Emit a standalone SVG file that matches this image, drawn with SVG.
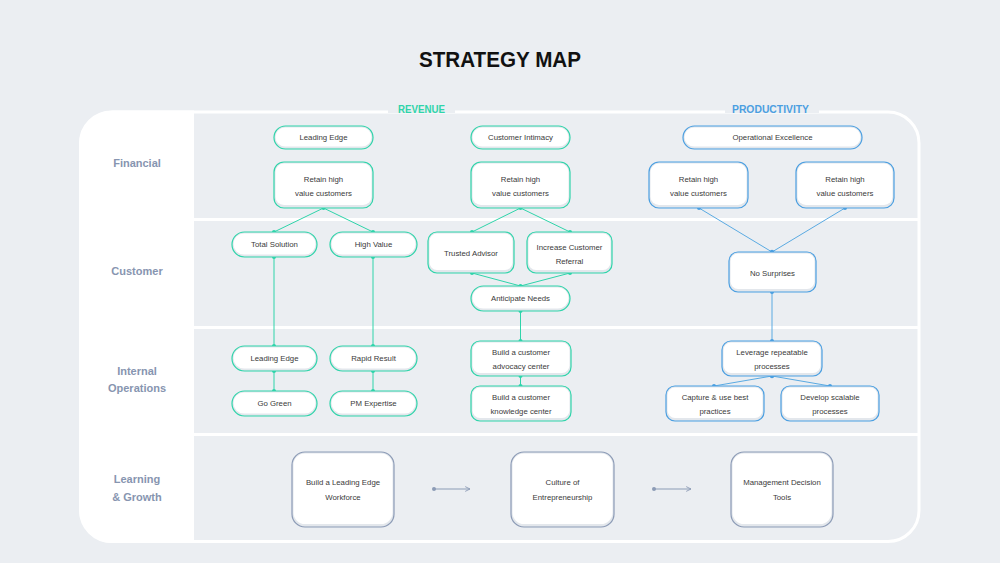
<svg xmlns="http://www.w3.org/2000/svg" width="1000" height="563" viewBox="0 0 1000 563">
<style>
  .bg{fill:#ebeef2}
  .t{font-family:"Liberation Sans",Arial,sans-serif;font-size:7.8px;fill:#3a3a3a;text-anchor:middle}
  .row{font-family:"Liberation Sans",Arial,sans-serif;font-size:11px;font-weight:bold;fill:#8795b0;text-anchor:middle}
  .hdr{font-family:"Liberation Sans",Arial,sans-serif;font-size:10.5px;font-weight:bold;text-anchor:middle}
  .g .o{fill:#e3e7ec;stroke:#2fd4aa;stroke-width:1.2}
  .b .o{fill:#e3e7ec;stroke:#4b9fe1;stroke-width:1.2}
  .k .o{fill:#e3e7ec;stroke:#8c9bb6;stroke-width:1.2}
  .i{fill:#ffffff}
  .lg{stroke:#2fd4aa;stroke-width:1;fill:none}
  .lb{stroke:#5aaae2;stroke-width:1;fill:none}
  .lk{stroke:#8c9bb6;stroke-width:1.2;fill:none}
  .dg{fill:#2fd4aa}
  .db{fill:#4b9fe1}
  .dk{fill:#8c9bb6}
</style>
<defs>
  <marker id="ah" viewBox="0 0 10 10" refX="9" refY="5" markerWidth="6" markerHeight="6" orient="auto" markerUnits="userSpaceOnUse">
    <path d="M1,1 L9,5 L1,9" fill="none" stroke="#8c9bb6" stroke-width="1.5"/>
  </marker>
</defs>
<rect class="bg" x="0" y="0" width="1000" height="563"/>
<text x="500" y="67" font-family="Liberation Sans,Arial,sans-serif" font-size="22" font-weight="bold" fill="#111" text-anchor="middle" textLength="162" lengthAdjust="spacingAndGlyphs">STRATEGY MAP</text>

<g id="frame">
  <rect x="80.5" y="112" width="838.5" height="429.5" rx="31" fill="#ebeef2" stroke="#ffffff" stroke-width="3"/>
  <path d="M194 110.5 V543 H113 A34 34 0 0 1 79 509 V144.5 A34 34 0 0 1 113 110.5 Z" fill="#ffffff"/>
  <line x1="194" y1="219.5" x2="918" y2="219.5" stroke="#fff" stroke-width="3"/>
  <line x1="194" y1="327.5" x2="918" y2="327.5" stroke="#fff" stroke-width="3"/>
  <line x1="194" y1="434.5" x2="918" y2="434.5" stroke="#fff" stroke-width="3"/>
  <rect class="bg" x="388" y="103" width="67" height="10"/>
  <rect class="bg" x="725" y="103" width="94" height="10"/>
  <text class="hdr" x="421.5" y="113" fill="#2fd4aa" textLength="47" lengthAdjust="spacingAndGlyphs">REVENUE</text>
  <text class="hdr" x="770.5" y="113" fill="#4b9fe1" textLength="77" lengthAdjust="spacingAndGlyphs">PRODUCTIVITY</text>
</g>

<g id="row-labels">
  <text class="row" x="137" y="167">Financial</text>
  <text class="row" x="137" y="275">Customer</text>
  <text class="row" x="137" y="375">Internal</text>
  <text class="row" x="137" y="392">Operations</text>
  <text class="row" x="137" y="483">Learning</text>
  <text class="row" x="137" y="501">&amp; Growth</text>
</g>

<g id="connectors">
  <path class="lg" d="M323.5 208 L274 232 M323.5 208 L373 232 M274 257 V346 M373 257 V346 M274 371 V391 M373 371 V391"/>
  <path class="lg" d="M520.5 208 L472 232 M520.5 208 L570 232 M472 273 L520.5 286 M570 273 L520.5 286 M520.5 311 V341 M520.5 376 V386"/>
  <path class="lb" d="M699 208 L772 252 M845 208 L772 252 M772 292 V341 M772 376 L714 386 M772 376 L830 386"/>
  <line class="lk" x1="434" y1="489" x2="470" y2="489" marker-end="url(#ah)"/>
  <line class="lk" x1="654" y1="489" x2="691" y2="489" marker-end="url(#ah)"/>
  <g class="dg">
    <circle cx="323.5" cy="208" r="2"/><circle cx="274" cy="232" r="2"/><circle cx="373" cy="232" r="2"/>
    <circle cx="274" cy="257" r="2"/><circle cx="373" cy="257" r="2"/><circle cx="274" cy="346" r="2"/><circle cx="373" cy="346" r="2"/>
    <circle cx="274" cy="371" r="2"/><circle cx="373" cy="371" r="2"/><circle cx="274" cy="391" r="2"/><circle cx="373" cy="391" r="2"/>
    <circle cx="520.5" cy="208" r="2"/><circle cx="472" cy="232" r="2"/><circle cx="570" cy="232" r="2"/>
    <circle cx="472" cy="273" r="2"/><circle cx="570" cy="273" r="2"/><circle cx="520.5" cy="286" r="2"/>
    <circle cx="520.5" cy="311" r="2"/><circle cx="520.5" cy="341" r="2"/><circle cx="520.5" cy="376" r="2"/><circle cx="520.5" cy="386" r="2"/>
  </g>
  <g class="db">
    <circle cx="699" cy="208" r="2"/><circle cx="845" cy="208" r="2"/><circle cx="772" cy="252" r="2.2"/>
    <circle cx="772" cy="292" r="2"/><circle cx="772" cy="341" r="2"/><circle cx="772" cy="376" r="2.2"/>
    <circle cx="714" cy="386" r="2"/><circle cx="830" cy="386" r="2"/>
  </g>
  <g class="dk">
    <circle cx="434" cy="489" r="2"/><circle cx="654" cy="489" r="2"/>
  </g>
</g>

<!-- Financial -->
<g id="n-leading-edge-fin" class="g"><rect class="o" x="274" y="126" width="99" height="23" rx="11.5"/><rect class="i" x="275.5" y="127.5" width="96" height="19" rx="9.5"/><text class="t" x="323.5" y="140.3">Leading Edge</text></g>
<g id="n-retain-1" class="g"><rect class="o" x="274" y="162" width="99" height="46" rx="10"/><rect class="i" x="275.5" y="163.5" width="96" height="41.5" rx="8.5"/><text class="t" x="323.5" y="181.7">Retain high</text><text class="t" x="323.5" y="195.7">value customers</text></g>
<g id="n-customer-intimacy" class="g"><rect class="o" x="471" y="126" width="99" height="23" rx="11.5"/><rect class="i" x="472.5" y="127.5" width="96" height="19" rx="9.5"/><text class="t" x="520.5" y="140.3">Customer Intimacy</text></g>
<g id="n-retain-2" class="g"><rect class="o" x="471" y="162" width="99" height="46" rx="10"/><rect class="i" x="472.5" y="163.5" width="96" height="41.5" rx="8.5"/><text class="t" x="520.5" y="181.7">Retain high</text><text class="t" x="520.5" y="195.7">value customers</text></g>
<g id="n-operational-excellence" class="b"><rect class="o" x="683" y="126" width="179" height="23" rx="11.5"/><rect class="i" x="684.5" y="127.5" width="176" height="19" rx="9.5"/><text class="t" x="772.5" y="140.3">Operational Excellence</text></g>
<g id="n-retain-3" class="b"><rect class="o" x="649" y="162" width="99" height="46" rx="10"/><rect class="i" x="650.5" y="163.5" width="96" height="41.5" rx="8.5"/><text class="t" x="698.5" y="181.7">Retain high</text><text class="t" x="698.5" y="195.7">value customers</text></g>
<g id="n-retain-4" class="b"><rect class="o" x="796" y="162" width="98" height="46" rx="10"/><rect class="i" x="797.5" y="163.5" width="95" height="41.5" rx="8.5"/><text class="t" x="845" y="181.7">Retain high</text><text class="t" x="845" y="195.7">value customers</text></g>

<!-- Customer -->
<g id="n-total-solution" class="g"><rect class="o" x="232" y="232" width="85" height="25" rx="12.5"/><rect class="i" x="233.5" y="233.5" width="82" height="21" rx="10.5"/><text class="t" x="274.5" y="247.3">Total Solution</text></g>
<g id="n-high-value" class="g"><rect class="o" x="330" y="232" width="87" height="25" rx="12.5"/><rect class="i" x="331.5" y="233.5" width="84" height="21" rx="10.5"/><text class="t" x="373.5" y="247.3">High Value</text></g>
<g id="n-trusted-advisor" class="g"><rect class="o" x="428" y="232" width="86" height="41" rx="9"/><rect class="i" x="429.5" y="233.5" width="83" height="36.5" rx="7.5"/><text class="t" x="471" y="256">Trusted Advisor</text></g>
<g id="n-increase-referral" class="g"><rect class="o" x="527" y="232" width="85" height="41" rx="9"/><rect class="i" x="528.5" y="233.5" width="82" height="36.5" rx="7.5"/><text class="t" x="569.5" y="249.5">Increase Customer</text><text class="t" x="569.5" y="263.5">Referral</text></g>
<g id="n-anticipate-needs" class="g"><rect class="o" x="471" y="286" width="99" height="25" rx="12.5"/><rect class="i" x="472.5" y="287.5" width="96" height="21" rx="10.5"/><text class="t" x="520.5" y="301.3">Anticipate Needs</text></g>
<g id="n-no-surprises" class="b"><rect class="o" x="729" y="252" width="87" height="40" rx="9"/><rect class="i" x="730.5" y="253.5" width="84" height="35.5" rx="7.5"/><text class="t" x="772.5" y="275.5">No Surprises</text></g>

<!-- Internal Operations -->
<g id="n-leading-edge-int" class="g"><rect class="o" x="232" y="346" width="85" height="25" rx="12.5"/><rect class="i" x="233.5" y="347.5" width="82" height="21" rx="10.5"/><text class="t" x="274.5" y="361.3">Leading Edge</text></g>
<g id="n-rapid-result" class="g"><rect class="o" x="330" y="346" width="87" height="25" rx="12.5"/><rect class="i" x="331.5" y="347.5" width="84" height="21" rx="10.5"/><text class="t" x="373.5" y="361.3">Rapid Result</text></g>
<g id="n-go-green" class="g"><rect class="o" x="232" y="391" width="85" height="25" rx="12.5"/><rect class="i" x="233.5" y="392.5" width="82" height="21" rx="10.5"/><text class="t" x="274.5" y="406.3">Go Green</text></g>
<g id="n-pm-expertise" class="g"><rect class="o" x="330" y="391" width="87" height="25" rx="12.5"/><rect class="i" x="331.5" y="392.5" width="84" height="21" rx="10.5"/><text class="t" x="373.5" y="406.3">PM Expertise</text></g>
<g id="n-advocacy" class="g"><rect class="o" x="471" y="341" width="100" height="35" rx="9"/><rect class="i" x="472.5" y="342.5" width="97" height="30.5" rx="7.5"/><text class="t" x="521" y="354.5">Build a customer</text><text class="t" x="521" y="368.5">advocacy center</text></g>
<g id="n-knowledge" class="g"><rect class="o" x="471" y="386" width="100" height="35" rx="9"/><rect class="i" x="472.5" y="387.5" width="97" height="30.5" rx="7.5"/><text class="t" x="521" y="399.5">Build a customer</text><text class="t" x="521" y="413.5">knowledge center</text></g>
<g id="n-leverage" class="b"><rect class="o" x="722" y="341" width="100" height="35" rx="9"/><rect class="i" x="723.5" y="342.5" width="97" height="30.5" rx="7.5"/><text class="t" x="772" y="354.5">Leverage repeatable</text><text class="t" x="772" y="368.5">processes</text></g>
<g id="n-capture" class="b"><rect class="o" x="666" y="386" width="98" height="35" rx="9"/><rect class="i" x="667.5" y="387.5" width="95" height="30.5" rx="7.5"/><text class="t" x="715" y="399.5">Capture &amp; use best</text><text class="t" x="715" y="413.5">practices</text></g>
<g id="n-develop" class="b"><rect class="o" x="781" y="386" width="98" height="35" rx="9"/><rect class="i" x="782.5" y="387.5" width="95" height="30.5" rx="7.5"/><text class="t" x="830" y="399.5">Develop scalable</text><text class="t" x="830" y="413.5">processes</text></g>

<!-- Learning & Growth -->
<g id="n-workforce" class="k"><rect class="o" x="292" y="452" width="102" height="75" rx="13"/><rect class="i" x="293.5" y="453.5" width="99" height="70.5" rx="11.5"/><text class="t" x="343" y="485">Build a Leading Edge</text><text class="t" x="343" y="499.5">Workforce</text></g>
<g id="n-culture" class="k"><rect class="o" x="511" y="452" width="103" height="75" rx="13"/><rect class="i" x="512.5" y="453.5" width="100" height="70.5" rx="11.5"/><text class="t" x="562.5" y="485">Culture of</text><text class="t" x="562.5" y="499.5">Entrepreneurship</text></g>
<g id="n-decision-tools" class="k"><rect class="o" x="731" y="452" width="102" height="75" rx="13"/><rect class="i" x="732.5" y="453.5" width="99" height="70.5" rx="11.5"/><text class="t" x="782" y="485">Management Decision</text><text class="t" x="782" y="499.5">Tools</text></g>
</svg>
